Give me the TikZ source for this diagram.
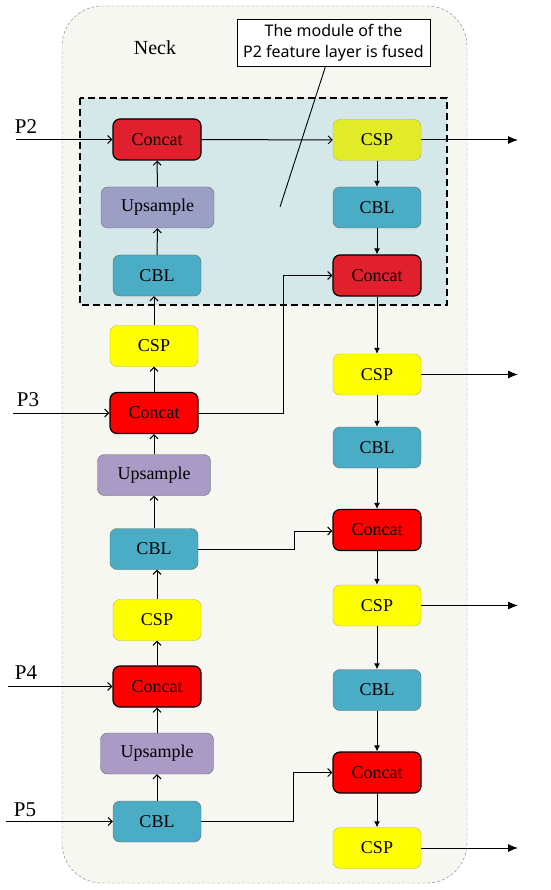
\documentclass[tikz,border=0pt]{standalone}
\usepackage{fontspec}
\setmainfont{Liberation Serif}
\newfontfamily\notefont{Noto Sans}
\usetikzlibrary{arrows.meta}
\definecolor{neckbg}{HTML}{F7F7F2}
\definecolor{fuseblue}{HTML}{D4E8EA}
\definecolor{cblblue}{HTML}{4BACC6}
\definecolor{cspyellow}{HTML}{FFFF00}
\definecolor{cspgreen}{HTML}{E1EB28}
\definecolor{catred}{HTML}{FF0000}
\definecolor{catdark}{HTML}{E0202C}
\definecolor{upslilac}{HTML}{A99AC6}
\definecolor{upsblue}{HTML}{9B9FC6}
\begin{document}
\begin{tikzpicture}[x=1pt,y=1pt,
    blk/.style={rounded corners=7pt, minimum width=88pt, minimum height=41pt,
        inner sep=0pt, draw=gray!80!black, font=\fontsize{18}{20}\selectfont},
    cbl/.style={blk, fill=cblblue},
    csp/.style={blk, fill=cspyellow, draw=olive!60},
    cat/.style={blk, fill=catred, draw=black, line width=1.2pt},
    ups/.style={blk, minimum width=113pt, fill=upslilac},
    lbl/.style={font=\fontsize{21}{23}\selectfont},
    up/.style={line width=1pt, -{Straight Barb[length=4pt,width=8pt]}},
    dn/.style={line width=1pt, -{Latex[length=6pt,width=6pt]}},
    outarr/.style={line width=1pt, -{Latex[length=10pt,width=8pt]}}
]
    \useasboundingbox (0,0) rectangle (550,-890);

    % Marco del cuello
    \draw[gray, fill=neckbg, rounded corners=40pt, dash pattern=on 3pt off 2pt]
        (62,-6) rectangle (467,-883);
    \node[font=\fontsize{20}{22}\selectfont] (neck) at (155,-48) {Neck};

    % Zona fusionada P2
    \draw[fill=fuseblue, line width=1.3pt, dash pattern=on 7pt off 4pt]
        (80,-98) rectangle (447,-305);

    % Columna izquierda
    \node[cat, fill=catdark] (cat2) at (157,-139.5) {Concat};
    \node[ups, fill=upsblue] (ups2) at (157.5,-207.5) {Upsample};
    \node[cbl] (cbl2) at (157,-275.5) {CBL};
    \node[csp] (csp3) at (154,-346) {CSP};
    \node[cat] (cat3) at (154,-413) {Concat};
    \node[ups] (ups3) at (154,-475) {Upsample};
    \node[cbl] (cbl3) at (154,-549) {CBL};
    \node[csp] (csp4) at (157,-620) {CSP};
    \node[cat] (cat4) at (157,-686.5) {Concat};
    \node[ups] (ups4) at (157,-753.5) {Upsample};
    \node[cbl] (cbl5) at (157,-821.5) {CBL};

    % Columna derecha
    \node[csp, fill=cspgreen] (rcsp2) at (377,-140) {CSP};
    \node[cbl] (rcbl2) at (377,-207.5) {CBL};
    \node[cat, fill=catdark] (rcat3) at (377,-275.5) {Concat};
    \node[csp] (rcsp3) at (377,-374.5) {CSP};
    \node[cbl] (rcbl3) at (377,-447.5) {CBL};
    \node[cat] (rcat4) at (377,-530) {Concat};
    \node[csp] (rcsp4) at (377,-605.5) {CSP};
    \node[cbl] (rcbl4) at (377,-690) {CBL};
    \node[cat] (rcat5) at (377,-772.5) {Concat};
    \node[csp] (rcsp5) at (377,-848) {CSP};

    % Entradas
    \node[lbl] (lp2) at (26,-127) {P2};
    \node[lbl] (lp3) at (28,-400) {P3};
    \node[lbl] (lp4) at (26,-673) {P4};
    \node[lbl] (lp5) at (25,-810) {P5};
    \coordinate (in2) at (16,-139.5);
    \coordinate (in3) at (13,-413);
    \coordinate (in4) at (8,-686.5);
    \coordinate (in5) at (6,-821.5);
    \draw[up] (in2) -- (cat2);
    \draw[up] (in3) -- (cat3);
    \draw[up] (in4) -- (cat4);
    \draw[up] (in5) -- (cbl5);

    % Subida
    \draw[up] (cbl5) -- (ups4);
    \draw[up] (ups4) -- (cat4);
    \draw[up] (cat4) -- (csp4);
    \draw[up] (csp4.north) -- (csp4.north |- cbl3.south);
    \draw[up] (cbl3) -- (ups3);
    \draw[up] (ups3) -- (cat3);
    \draw[up] (cat3) -- (csp3);
    \draw[up] (csp3) -- (csp3 |- cbl2.south);
    \draw[up] (cbl2) -- (ups2);
    \draw[up] (ups2) -- (cat2);
    \draw[up] (cat2) -- (rcsp2);

    % Bajada
    \draw[dn] (rcsp2) -- (rcbl2);
    \draw[dn] (rcbl2) -- (rcat3);
    \draw[dn] (rcat3) -- (rcsp3);
    \draw[dn] (rcsp3) -- (rcbl3);
    \draw[dn] (rcbl3) -- (rcat4);
    \draw[dn] (rcat4) -- (rcsp4);
    \draw[dn] (rcsp4) -- (rcbl4);
    \draw[dn] (rcbl4) -- (rcat5);
    \draw[dn] (rcat5) -- (rcsp5);

    % Conexiones laterales
    \draw[up] (cat3.east) -- ++(85,0) |- (rcat3.west);
    \draw[up] (cbl3.east) -- ++(96,0) |- ([yshift=-1pt]rcat4.west);
    \draw[up] (cbl5.east) -- ++(92,0) |- (rcat5.west);

    % Salidas
    \coordinate (out2) at (518,-140);
    \coordinate (out3) at (518,-374.5);
    \coordinate (out4) at (518,-605.5);
    \coordinate (out5) at (518,-848);
    \draw[outarr] (rcsp2) -- (out2);
    \draw[outarr] (rcsp3) -- (out3);
    \draw[outarr] (rcsp4) -- (out4);
    \draw[outarr] (rcsp5) -- (out5);

    % Nota
    \node[draw, fill=white, align=center, inner sep=0pt, minimum width=193pt,
        minimum height=47pt, line width=0.9pt,
        font=\notefont\fontsize{16}{21}\selectfont]
        (note) at (333.5,-42.5) {The module of the\\P2 feature layer is fused};
    \coordinate (tip) at (280,-207);
    \draw[line width=0.9pt] ([xshift=-8pt]note.south) -- (tip);
\end{tikzpicture}
\end{document}
